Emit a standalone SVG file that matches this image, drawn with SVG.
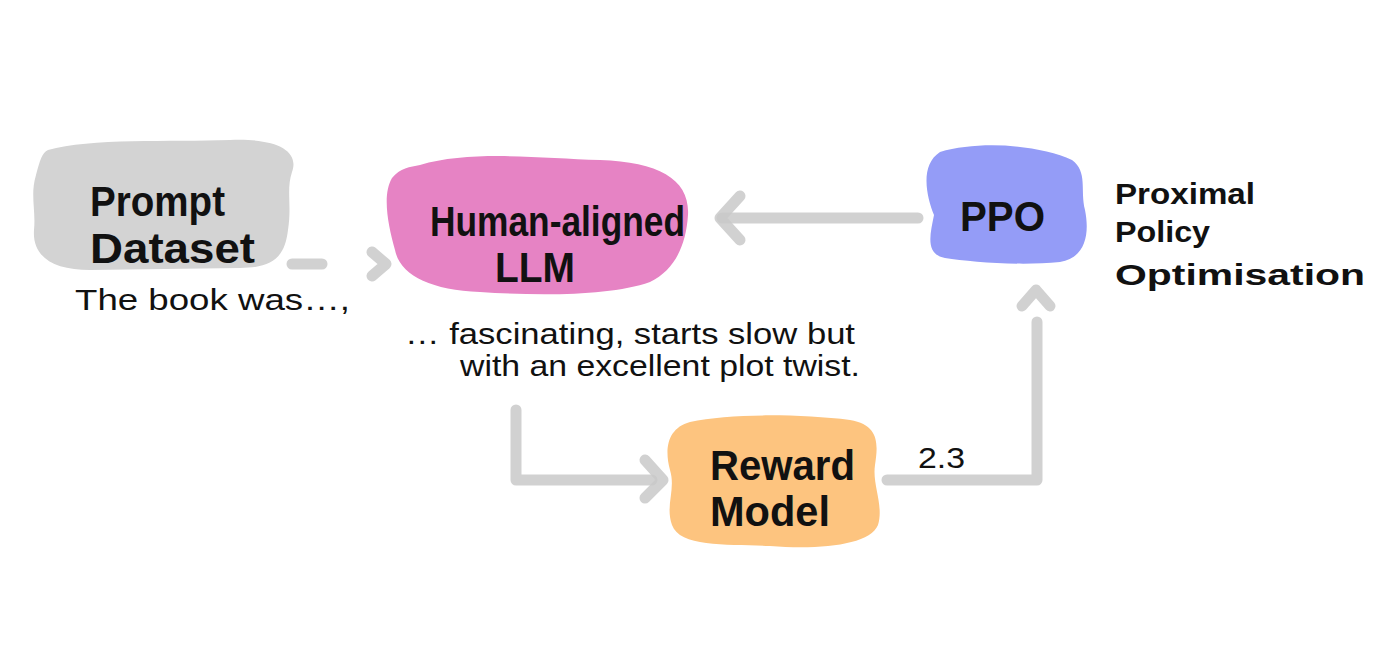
<svg xmlns="http://www.w3.org/2000/svg" width="1400" height="660" viewBox="0 0 1400 660">
<style>
.hand{font-family:"Liberation Sans","DejaVu Sans",sans-serif;fill:#111;}
.lbl{font-size:42px;font-weight:bold;}
.note{font-size:30px;}
.conn{fill:none;stroke:#c9c9c9;stroke-width:11;stroke-linecap:round;stroke-linejoin:round;opacity:0.85;}
</style>
<rect width="1400" height="660" fill="#ffffff"/>
<g id="connectors">
<path class="conn" d="M292 264 H322"/>
<path class="conn" d="M372 252 L386 264 L372 276"/>
<path class="conn" d="M918 218 H722"/>
<path class="conn" d="M740 196 L720 218 L740 240"/>
<path class="conn" d="M516 410 V480 H652"/>
<path class="conn" d="M645 460 L663 480 L645 498"/>
<path class="conn" d="M887 480 H1037 V322"/>
<path class="conn" d="M1022 306 L1036 290 L1050 306"/>
</g>
<g id="prompt-dataset">
<path d="M48 150 C90 138 170 142 230 140 C275 138 300 150 292 172 C286 190 292 205 288 230 C285 255 275 268 240 268 L90 270 C55 270 32 258 34 230 C36 210 30 195 36 175 C40 160 42 153 48 150 Z" fill="#d3d3d3"/>
<text class="hand lbl" x="90" y="216" textLength="135" lengthAdjust="spacingAndGlyphs">Prompt</text>
<text class="hand lbl" x="90" y="263" textLength="165" lengthAdjust="spacingAndGlyphs">Dataset</text>
<text class="hand note" x="75" y="310" textLength="275" lengthAdjust="spacingAndGlyphs">The book was…,</text>
</g>
<g id="human-aligned-llm">
<path d="M420 165 C470 150 540 158 600 160 C660 162 690 180 688 215 C686 245 675 270 650 282 C610 296 540 296 480 292 C430 290 400 275 395 250 C388 225 382 195 392 178 C400 168 410 167 420 165 Z" fill="#e683c4"/>
<text class="hand lbl" x="430" y="236" textLength="255" lengthAdjust="spacingAndGlyphs">Human-aligned</text>
<text class="hand lbl" x="495" y="282" textLength="80" lengthAdjust="spacingAndGlyphs">LLM</text>
</g>
<g id="llm-output">
<text class="hand note" x="405" y="344" textLength="450" lengthAdjust="spacingAndGlyphs">… fascinating, starts slow but</text>
<text class="hand note" x="460" y="376" textLength="400" lengthAdjust="spacingAndGlyphs">with an excellent plot twist.</text>
</g>
<g id="ppo">
<path d="M940 152 C980 140 1040 145 1072 160 C1088 172 1080 190 1085 210 C1090 235 1085 258 1060 262 C1020 266 970 262 945 258 C925 254 930 235 934 215 C926 195 920 165 940 152 Z" fill="#949cf7"/>
<text class="hand lbl" x="960" y="231" textLength="85" lengthAdjust="spacingAndGlyphs">PPO</text>
<text class="hand note" x="1115" y="204" font-weight="bold" textLength="140" lengthAdjust="spacingAndGlyphs">Proximal</text>
<text class="hand note" x="1115" y="242" font-weight="bold" textLength="95" lengthAdjust="spacingAndGlyphs">Policy</text>
<text class="hand note" x="1115" y="285" font-weight="bold" font-size="36" textLength="250" lengthAdjust="spacingAndGlyphs">Optimisation</text>
</g>
<g id="reward-model">
<path d="M690 422 C730 413 800 414 850 420 C880 425 878 445 875 465 C872 485 884 505 878 525 C870 545 820 550 770 546 C730 544 680 548 672 525 C665 505 676 490 670 470 C664 448 668 428 690 422 Z" fill="#fdc47f"/>
<text class="hand lbl" x="710" y="480" textLength="145" lengthAdjust="spacingAndGlyphs">Reward</text>
<text class="hand lbl" x="710" y="526" textLength="120" lengthAdjust="spacingAndGlyphs">Model</text>
<text class="hand note" x="918" y="468" font-size="24" textLength="47" lengthAdjust="spacingAndGlyphs">2.3</text>
</g>
</svg>
